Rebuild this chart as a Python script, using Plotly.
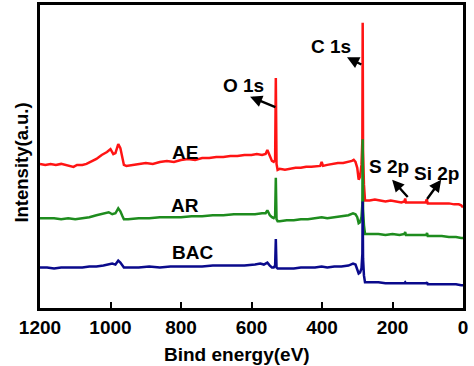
import plotly.graph_objects as go

# Binding energy (eV) and intensities (a.u.)
ae_energy = [1200, 1185, 1170, 1155, 1140, 1125, 1112, 1105, 1095, 1080, 1068, 1055, 1040, 1025, 1010, 1000, 992, 986, 978, 972, 966, 962, 955, 940, 920, 900, 880, 860, 840, 820, 800, 780, 760, 740, 720, 700, 680, 660, 640, 620, 600, 585, 570, 560, 555, 548, 542, 537, 533, 531, 529, 526, 520, 505, 490, 475, 460, 445, 430, 415, 405, 401, 397, 385, 370, 355, 340, 325, 315, 310, 305, 300, 296, 292, 288, 285.5, 284.6, 283.5, 281, 278, 265, 250, 235, 220, 205, 190, 175, 166, 164, 162, 150, 135, 120, 106, 103, 100, 85, 70, 55, 40, 25, 12, 5, 0]
ae_int = [146, 145, 146, 145, 146, 145, 144, 143, 145, 145, 146, 148, 151, 155, 158, 161, 156, 157, 166, 162, 150, 145, 144, 145, 146, 147, 146, 148, 149, 148, 150, 151, 150, 152, 152, 153, 153, 154, 154, 155, 155, 156, 155, 156, 160, 153, 149, 148, 150, 233, 146, 140, 141, 140, 141, 142, 142, 143, 143, 144, 144, 148, 144, 145, 146, 147, 147, 148, 149, 150, 148, 142, 130, 133, 145, 170, 289, 160, 125, 109, 109, 110, 109, 108, 109, 108, 107, 108, 111, 107, 107, 107, 107, 107, 110, 106, 106, 106, 106, 106, 105, 105, 104, 102]

ar_energy = [1200, 1180, 1160, 1140, 1120, 1100, 1080, 1060, 1040, 1020, 1005, 995, 986, 978, 972, 966, 962, 950, 920, 890, 860, 830, 800, 770, 740, 710, 680, 650, 620, 590, 570, 560, 555, 548, 542, 537, 533, 531, 529, 526, 520, 500, 480, 460, 440, 420, 401, 385, 365, 345, 325, 312, 305, 300, 296, 292, 288, 285.5, 284.6, 283.5, 281, 278, 260, 240, 220, 200, 180, 166, 164, 162, 140, 120, 104, 102, 100, 80, 60, 40, 20, 5, 0]
ar_int = [91, 91, 91, 90, 91, 90, 91, 92, 94, 96, 97, 95, 96, 101, 98, 93, 90, 90, 91, 91, 92, 92, 92, 93, 93, 94, 94, 95, 95, 95, 96, 96, 99, 94, 92, 91, 93, 132, 90, 88, 88, 89, 89, 90, 90, 91, 92, 91, 92, 93, 94, 96, 95, 92, 86, 87, 92, 105, 171, 100, 84, 75, 75, 75, 74, 75, 74, 75, 77, 74, 74, 74, 74, 76, 73, 73, 73, 72, 72, 71, 71]

bac_energy = [1200, 1180, 1160, 1140, 1120, 1100, 1080, 1060, 1040, 1020, 1005, 995, 986, 978, 972, 966, 962, 950, 920, 890, 860, 830, 800, 770, 740, 710, 680, 650, 620, 590, 575, 565, 555, 548, 542, 537, 533, 531, 529, 526, 520, 500, 480, 460, 440, 420, 401, 385, 365, 345, 325, 312, 305, 300, 296, 292, 288, 285.5, 284.6, 283.5, 281, 278, 260, 240, 220, 200, 180, 166, 164, 162, 140, 120, 104, 102, 100, 80, 60, 40, 20, 5, 0]
bac_int = [41, 41, 40, 41, 41, 41, 41, 42, 42, 43, 44, 45, 44, 48, 46, 43, 41, 41, 41, 42, 41, 42, 42, 42, 42, 43, 43, 43, 43, 44, 45, 44, 46, 43, 41, 41, 43, 70, 41, 40, 40, 40, 40, 41, 41, 41, 42, 41, 42, 42, 43, 45, 44, 40, 35, 36, 40, 55, 108, 50, 33, 26, 26, 26, 25, 25, 25, 25, 26, 25, 25, 25, 25, 26, 24, 24, 24, 24, 24, 23, 23]

series_names = ["AE", "AR", "BAC"]
series_colors = ["#ff1414", "#1e8c1e", "#0a0a8c"]

peak_labels = ["O 1s", "C 1s", "S 2p", "Si 2p"]

FONT = "Liberation Sans, Arial, sans-serif"

fig = go.Figure()
for e, v, name, col in zip([ae_energy, ar_energy, bac_energy], [ae_int, ar_int, bac_int], series_names, series_colors):
    fig.add_trace(go.Scatter(x=e, y=v, mode="lines", name=name,
                             line=dict(color=col, width=2.5), showlegend=False))

def label(text, x, y):
    fig.add_annotation(x=x, y=y, text=text, showarrow=False, xref="x", yref="y",
                       font=dict(family=FONT, size=19, color="black", weight="bold"))

label("AE", 789, 158)
label("AR", 789, 104)
label("BAC", 766, 56)
label(peak_labels[0], 624, 225)
label(peak_labels[1], 374, 265)
label(peak_labels[2], 210, 143)
label(peak_labels[3], 74, 136)

def arrow(hx, hy, tx, ty):
    fig.add_annotation(x=hx, y=hy, ax=tx, ay=ty, xref="x", yref="y", axref="x", ayref="y",
                       text="", showarrow=True, arrowhead=2, arrowsize=1.0, arrowwidth=2.4,
                       arrowcolor="black")

arrow(604, 214, 528, 203)
arrow(329, 254, 284, 246)
arrow(201, 130, 153, 111)
arrow(62, 130, 105, 109)

# axis titles
fig.add_annotation(x=-0.072, y=0.48, xref="paper", yref="paper", text="Intensity(a.u.)",
                   textangle=-90, showarrow=False,
                   font=dict(family=FONT, size=18.5, color="black", weight="bold"))
fig.add_annotation(x=0.466, y=-0.153, xref="paper", yref="paper", text="Bind energy(eV)",
                   showarrow=False, yanchor="middle",
                   font=dict(family=FONT, size=19, color="black", weight="bold"))

fig.update_xaxes(range=[1200, 0], showline=True, mirror=True, linecolor="black", linewidth=2.8,
                 ticks="inside", ticklen=6, tickwidth=2, tickcolor="black", dtick=200, tick0=0,
                 showgrid=False, zeroline=False,
                 tickfont=dict(family=FONT, size=19, color="black", weight="bold"))
fig.update_yaxes(range=[0, 307], showline=True, mirror=True, linecolor="black", linewidth=2.8,
                 ticks="", showticklabels=False, showgrid=False, zeroline=False)

fig.update_layout(width=474, height=366, margin=dict(l=40, r=11, t=2, b=58),
                  paper_bgcolor="white", plot_bgcolor="white")

fig.write_html("out.html", config={"displayModeBar": False},
               post_script="document.body.style.margin='0';document.body.style.padding='0';")
